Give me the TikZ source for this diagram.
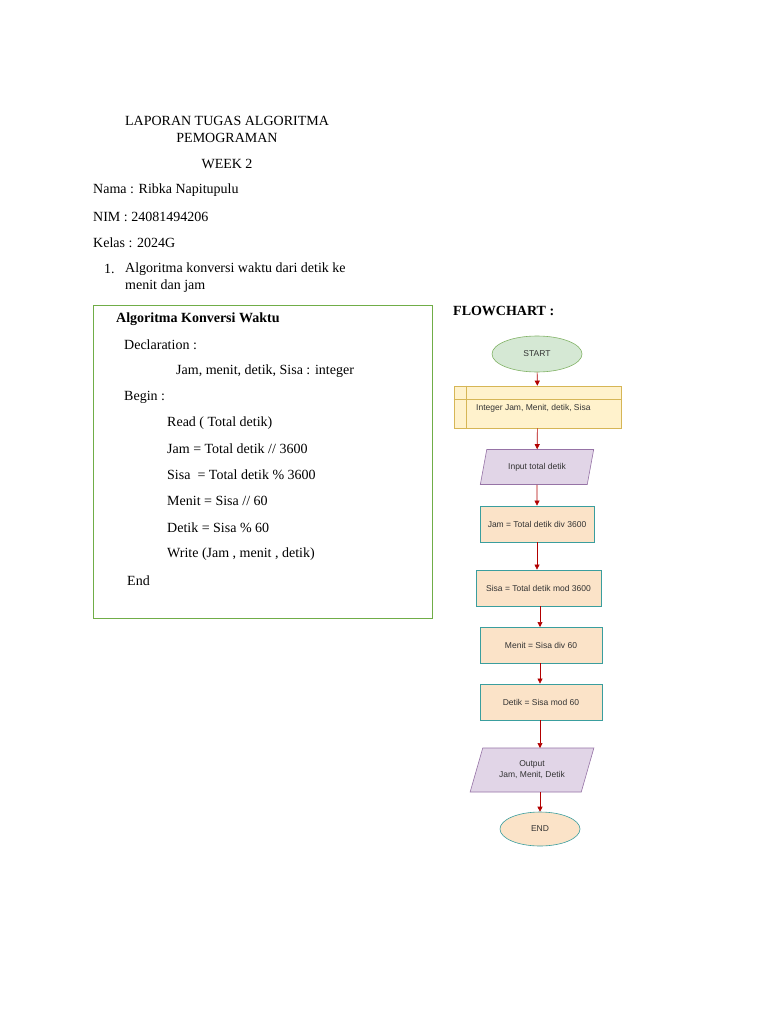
\documentclass[tikz,border=0pt]{standalone}
\usepackage{fontspec}
\setmainfont{Liberation Serif}
\newfontfamily\fsans{Liberation Sans}
\usetikzlibrary{shapes.geometric,arrows.meta}
\definecolor{arr}{HTML}{B20000}
\definecolor{teal}{HTML}{3A9E9E}
\definecolor{beige}{HTML}{FBE3C8}
\definecolor{lilac}{HTML}{E1D5E7}
\definecolor{lilacd}{HTML}{9673A6}
\definecolor{ylw}{HTML}{FFF2CC}
\definecolor{ylwd}{HTML}{D6B656}
\definecolor{grn}{HTML}{D5E8D4}
\definecolor{grnd}{HTML}{82B366}
\definecolor{boxg}{HTML}{70AD47}
\tikzset{
 doc/.style={anchor=west,inner sep=0pt,font=\fontsize{14}{15}\selectfont},
 fc/.style={font=\fsans\fontsize{8.5}{11}\selectfont,align=center,inner sep=0pt,text=black!80},
 proc/.style={fc,draw=teal,fill=beige,line width=0.8pt},
 io/.style={fc,draw=lilacd,fill=lilac,trapezium,trapezium left angle=65,trapezium right angle=115,trapezium stretches=true,line width=0.6pt},
 con/.style={draw=arr,line width=0.6pt,-{Triangle[length=5pt,width=5pt]}}
}
\begin{document}
\begin{tikzpicture}[x=1pt,y=-1pt]
\useasboundingbox (0,0) rectangle (768,1024);
\fill[white] (0,0) rectangle (768,1024);
\node[doc,anchor=center] (t1) at (227,121) {LAPORAN TUGAS ALGORITMA};
\node[doc,anchor=center] (t2) at (227,138) {PEMOGRAMAN};
\node[doc,anchor=center] (t3) at (227,164) {WEEK 2};
\node[doc] (n1) at (93,190) {Nama : Ribka Napitupulu};
\node[doc] (n2) at (93,217) {NIM : 24081494206};
\node[doc] (n3) at (93,243) {Kelas : 2024G};
\node[doc] (q0) at (104,269) {1.};
\node[doc] (q1) at (125,269) {Algoritma konversi waktu dari detik ke};
\node[doc] (q2) at (125,286) {menit dan jam};
\draw[draw=boxg,line width=0.8pt] (93,305) rectangle (432,618);
\node[doc,font=\bfseries\fontsize{14}{15}\selectfont] (a0) at (116,319) {Algoritma Konversi Waktu};
\node[doc] (a1) at (124,345) {Declaration :};
\node[doc] (a2) at (176,371) {Jam, menit, detik, Sisa : integer};
\node[doc] (a3) at (124,397) {Begin :};
\node[doc] (a4) at (167,423) {Read ( Total detik)};
\node[doc] (a5) at (167,449) {Jam = Total detik // 3600};
\node[doc] (a6) at (167,475) {Sisa \ = Total detik \% 3600};
\node[doc] (a7) at (167,501) {Menit = Sisa // 60};
\node[doc] (a8) at (167,528) {Detik = Sisa \% 60};
\node[doc] (a9) at (167,554) {Write (Jam , menit , detik)};
\node[doc] (a10) at (127,581) {End};
\node[doc,font=\bfseries\fontsize{14}{15}\selectfont] (fl) at (453,311) {FLOWCHART :};
% flowchart
\node[fc,ellipse,draw=grnd,fill=grn,minimum width=90pt,minimum height=36pt,line width=0.6pt] (start) at (537,354) {START};
\node[fc,draw=ylwd,fill=ylw,minimum width=167pt,minimum height=42pt,line width=0.6pt] (decl) at (537.5,407) {};
\node[fc,anchor=west] (decltxt) at (476,408) {Integer Jam, Menit, detik, Sisa};
\draw[draw=ylwd,line width=0.6pt] (decl.north west) ++(13,0) -- ++(0,42);
\draw[draw=ylwd,line width=0.6pt] (decl.north west) ++(0,14) -- ++(167,0);
\node[io,minimum width=114pt,minimum height=35pt] (in) at (537,467) {Input total detik};
\node[proc,minimum width=114pt,minimum height=36pt] (p1) at (537,524) {Jam = Total detik div 3600};
\node[proc,minimum width=125pt,minimum height=36pt] (p2) at (538.5,588) {Sisa = Total detik mod 3600};
\node[proc,minimum width=122pt,minimum height=36pt] (p3) at (541,645) {Menit = Sisa div 60};
\node[proc,minimum width=122pt,minimum height=36pt] (p4) at (541,702) {Detik = Sisa mod 60};
\node[io,minimum width=124pt,minimum height=44pt] (out) at (532,770) {Output\\Jam, Menit, Detik};
\node[fc,ellipse,draw=teal,fill=beige,minimum width=80pt,minimum height=34pt,line width=0.6pt] (end) at (540,829) {END};
\coordinate (c2) at (540,606);
\coordinate (c3) at (540,627);
\coordinate (c4) at (540,720);
\coordinate (c5) at (540,748);
\coordinate (c6) at (540,792);
\draw[con] (start) -- (decl);
\draw[con] (decl) -- (in);
\draw[con] (in) -- (p1);
\draw[con] (p1) -- (p1|-p2.north);
\draw[con] (c2) -- (c3);
\draw[con] (c2|-p3.south) -- (c2|-p4.north);
\draw[con] (c4) -- (c5);
\draw[con] (c6) -- (end);
\end{tikzpicture}
\end{document}
